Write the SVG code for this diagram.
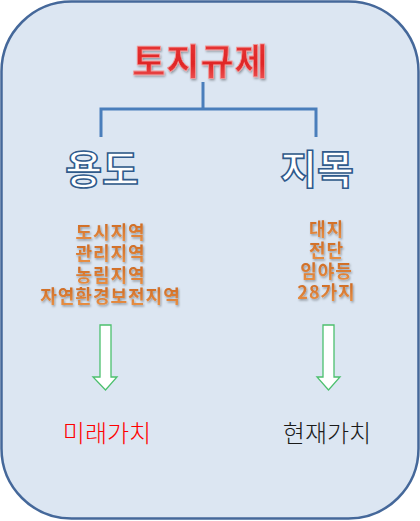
<svg xmlns="http://www.w3.org/2000/svg" width="420" height="521" viewBox="0 0 420 521">
<defs>
<filter id="sh" x="-10%" y="-20%" width="130%" height="150%">
<feDropShadow dx="1" dy="1.5" stdDeviation="1" flood-color="#000" flood-opacity="0.35"/>
</filter>
<linearGradient id="red" x1="0" y1="0" x2="0" y2="1">
<stop offset="0" stop-color="#e83a3a"/>
<stop offset="0.6" stop-color="#e02626"/>
<stop offset="1" stop-color="#f06060"/>
</linearGradient>
<linearGradient id="org" x1="0" y1="0" x2="0" y2="1">
<stop offset="0" stop-color="#c8621c"/>
<stop offset="1" stop-color="#eb9448"/>
</linearGradient>
</defs>
<style>
.k{font-family:"Noto Sans CJK KR","Noto Sans",sans-serif;text-anchor:middle;dominant-baseline:central}
.title{font-size:36px;font-weight:bold;letter-spacing:1px;fill:url(#red);stroke:#f29a9a;stroke-width:0.8}
.big{font-size:40px;font-weight:bold;fill:#fff;stroke:#2f5a8c;stroke-width:1.6}
.or{font-size:18px;font-weight:bold;letter-spacing:1px;fill:url(#org)}
.val{font-size:24px;font-weight:300}
.conn{fill:none;stroke:#4a7ebb;stroke-width:3}
.arr{fill:#fff;stroke:#4cc06e;stroke-width:1.3}
</style>
<rect x="1.5" y="1.5" width="417" height="517" rx="70" ry="70" fill="#dce6f2" stroke="#45689a" stroke-width="2.5"/>
<g id="title"><text class="k title" x="200.5" y="59" filter="url(#sh)">토지규제</text></g>
<g id="connectors">
<path class="conn" d="M203 82 V109 M101 137 V109 H316 V137"/>
<path class="arr" d="M100 325 H111 V377 H117 L105.5 390 L93 377 H100 Z"/>
<path class="arr" d="M323 325 H334 V377 H340 L328.5 390 L317 377 H323 Z"/>
</g>
<g id="yongdo"><text class="k big" x="102" y="167">용도</text></g>
<g id="jimok"><text class="k big" x="317" y="167">지목</text></g>
<g id="yongdo-list" filter="url(#sh)">
<text class="k or" x="110.5" y="231">도시지역</text>
<text class="k or" x="110.5" y="252">관리지역</text>
<text class="k or" x="110.5" y="274">농림지역</text>
<text class="k or" x="110.5" y="295">자연환경보전지역</text>
</g>
<g id="jimok-list" filter="url(#sh)">
<text class="k or" x="326.5" y="228">대지</text>
<text class="k or" x="326.5" y="249">전단</text>
<text class="k or" x="326.5" y="270">임야등</text>
<text class="k or" x="326.5" y="291">28가지</text>
</g>
<g id="future"><text class="k val" x="107" y="431" fill="#ff0000">미래가치</text></g>
<g id="present"><text class="k val" x="327" y="431" fill="#1a1a1a">현재가치</text></g>
</svg>
